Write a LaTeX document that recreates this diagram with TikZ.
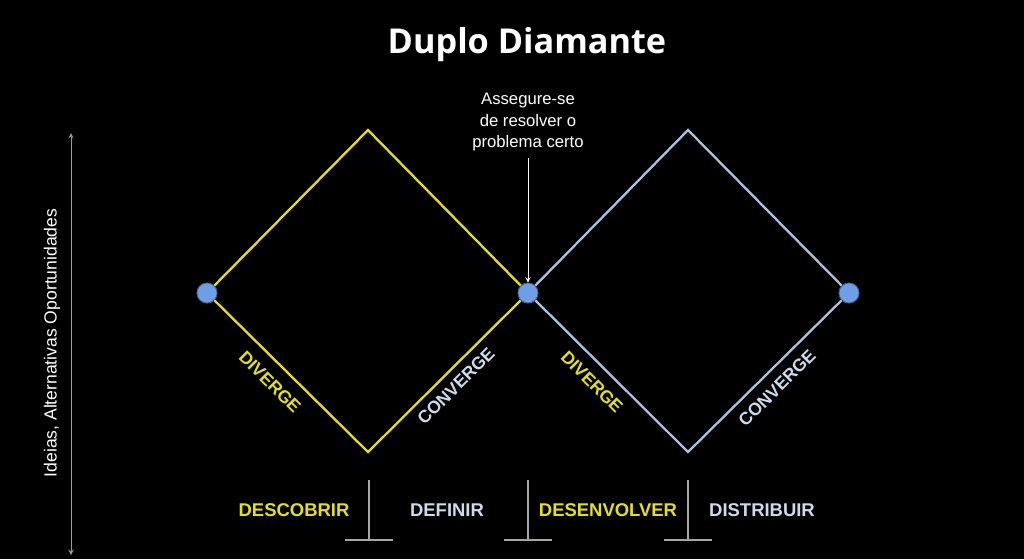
\documentclass[tikz,border=0pt]{standalone}
\usepackage{fontspec}
\setmainfont{Liberation Sans}
\newfontfamily\titlefont{Open Sans}
\usetikzlibrary{positioning}
\definecolor{ddyellow}{HTML}{E6E01A}
\definecolor{ddblue}{HTML}{A9C4E2}
\definecolor{dddot}{HTML}{6E9FE6}
\begin{document}
\begin{tikzpicture}[x=0.02cm,y=-0.02cm,>=stealth,
  dot/.style={circle,fill=dddot,draw=dddot!60!black,inner sep=0pt,minimum size=20*0.02cm},
  edge/.style={font=\bfseries\fontsize{10}{12}\selectfont},
  phase/.style={font=\bfseries\fontsize{10.5}{12}\selectfont}]
\fill[black](0,0) rectangle (1024,559);
\useasboundingbox (0,0) rectangle (1024,559);
\node[white,font=\titlefont\bfseries\fontsize{19.5}{23}\selectfont] (title) at (527,45) {Duplo Diamante};
% diamonds
\coordinate (Lt) at (368,130); \coordinate (Lb) at (368,452);
\coordinate (Rt) at (688,130); \coordinate (Rb) at (688,452);
\node[dot] (a) at (207,293) {};
\node[dot] (b) at (528,293) {};
\node[dot] (c) at (849,293) {};
\draw[ddyellow,line width=1.3pt](a)--(Lt)--(b)--(Lb)--(a);
\draw[ddblue,line width=1.3pt](b)--(Rt)--(c)--(Rb)--(b);
\node[dot] at (a) {}; \node[dot] at (b) {}; \node[dot] at (c) {};
\node[edge,ddyellow,rotate=-45] (d1) at (270,382) {DIVERGE};
\node[edge,ddblue!60!white,rotate=45] (c1) at (456,386) {CONVERGE};
\node[edge,ddyellow,rotate=-45] (d2) at (592,382) {DIVERGE};
\node[edge,ddblue!60!white,rotate=45] (c2) at (777,388) {CONVERGE};
% note
\node[white,align=center,font=\fontsize{9.5}{12.5}\selectfont] (note) at (528,122) {Assegure-se\\de resolver o\\problema certo};
\draw[->,white,thin](note.south)--(b.north);
% axis
\coordinate (y0) at (71,555); \coordinate (y1) at (71,133);
\draw[<->,gray!80,thin](y0)--(y1);
\node[white,rotate=90,font=\fontsize{10}{12}\selectfont] (axis) at (52,343) {Ideias, Alternativas Oportunidades};
% phases
\foreach \x/\n in {369/p1,528/p2,688/p3}{
  \coordinate (\n) at (\x,480);
  \draw[gray!70!white,line width=1pt](\n)--++(0,60) coordinate (\n b);
  \draw[gray!70!white,line width=1pt]([xshift=-24*0.02cm]\n b)--([xshift=24*0.02cm]\n b);
}
\node[phase,ddyellow] (ph1) at (294,510) {DESCOBRIR};
\node[phase,ddblue!60!white] (ph2) at (447,510) {DEFINIR};
\node[phase,ddyellow] (ph3) at (608,510) {DESENVOLVER};
\node[phase,ddblue!60!white] (ph4) at (762,510) {DISTRIBUIR};
\end{tikzpicture}
\end{document}
